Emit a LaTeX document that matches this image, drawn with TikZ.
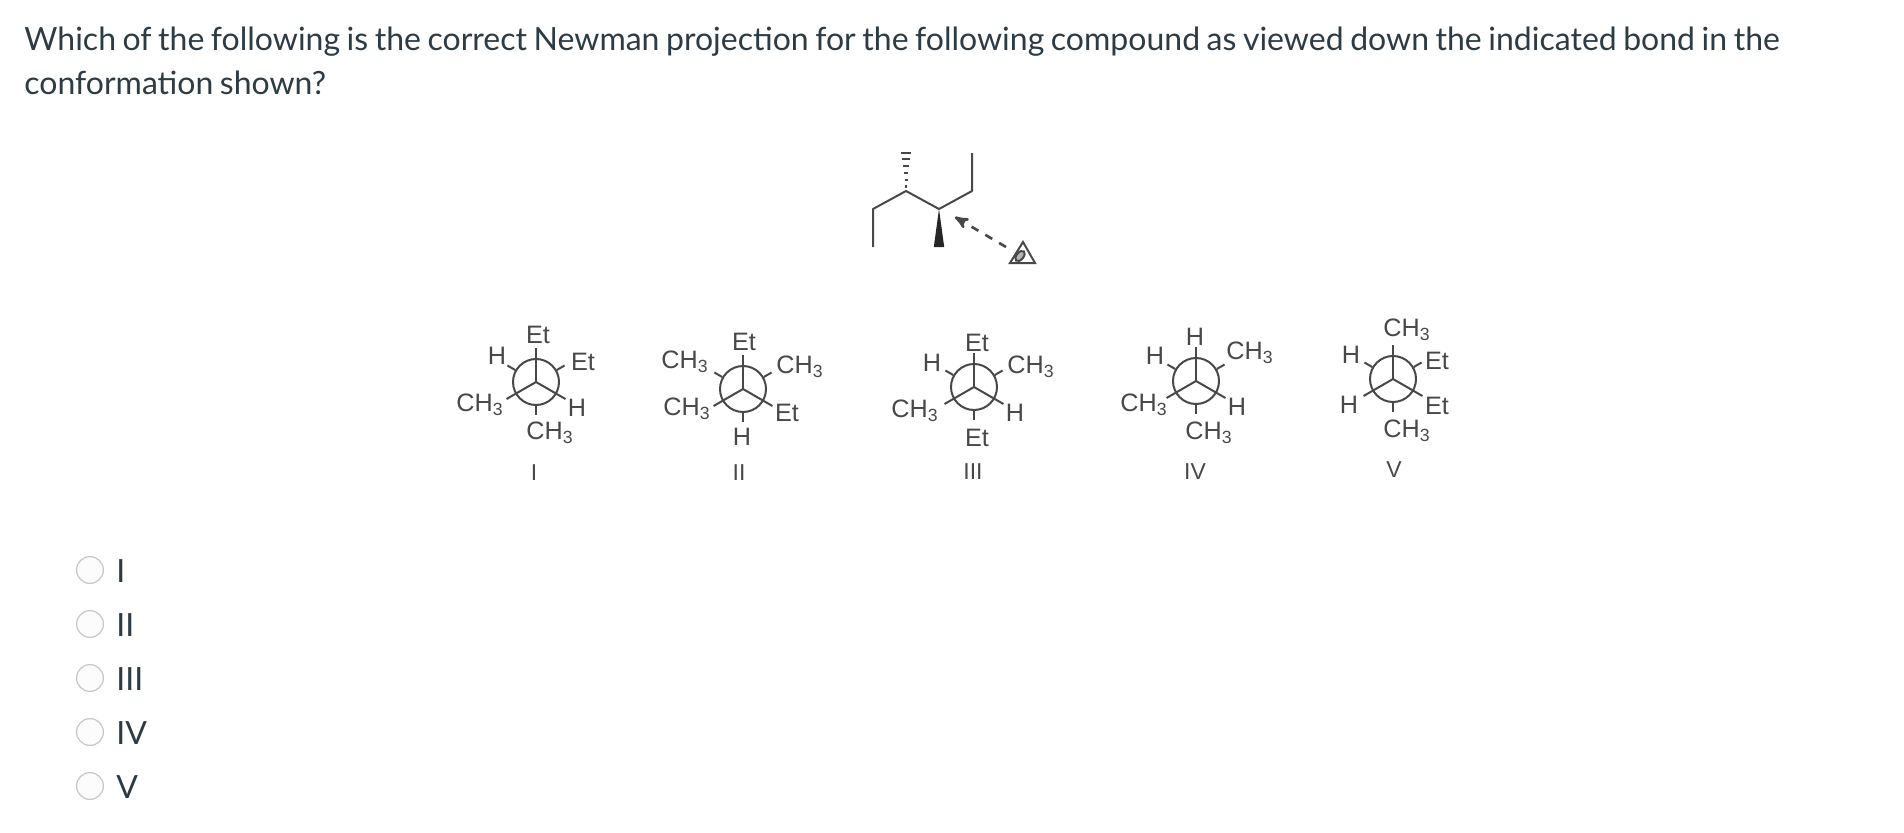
\documentclass[tikz,border=0pt]{standalone}
\usepackage{fontspec}
\setmainfont{Lato}[WordSpace=0.8]
\newfontfamily\labfont{Liberation Sans}
\usetikzlibrary{arrows, positioning}
\definecolor{qtext}{HTML}{2D3B45}
\definecolor{chem}{HTML}{484848}
\tikzset{
    bond/.style={draw=chem, line width=1pt},
    newman/.style={circle, draw=chem, line width=1pt, minimum size=23pt, inner sep=0pt},
    lab/.style={font=\labfont\fontsize{12.6}{14}\selectfont, text=chem, inner sep=0.5pt},
    numeral/.style={font=\labfont\fontsize{11.5}{14}\selectfont, text=chem, inner sep=0.5pt},
    qline/.style={font=\fontsize{16}{20}\selectfont, text=qtext, anchor=base west, inner sep=0pt},
    radio/.style={circle, draw=black!22, line width=0.6pt, fill=black!1, minimum size=13.4pt, inner sep=0pt},
    opt/.style={font=\fontsize{16}{20}\selectfont, text=qtext, inner sep=0pt},
}
\begin{document}
\begin{tikzpicture}[x=0.5pt, y=0.5pt]
    \useasboundingbox (0,0) rectangle (1904,832);

    % question
    \node[qline] (q1) at (24,781) {Which of the following is the correct Newman projection for the following compound as viewed down the indicated bond in the};
    \node[qline] (q2) at (24,737) {conformation shown?};

    % skeleton
    \coordinate (c1) at (873,585);
    \coordinate (c2) at (873,623);
    \coordinate (c3) at (906,641);
    \coordinate (c4) at (939,623);
    \coordinate (c5) at (972,641);
    \coordinate (c6) at (972,679);
    \coordinate (me1) at (939,585);
    \draw[bond, line join=round] (c1) -- (c2) -- (c3) -- (c4) -- (c5) -- (c6);
    \fill[black!85] (c4) -- ([xshift=-2.6pt]me1) -- ([xshift=2.6pt]me1) -- cycle;
    \foreach \t in {0.12,0.3,0.48,0.66,0.84,1}
        \draw[chem, line width=1.1pt] ([shift={(-5*\t,38*\t)}]c3) -- ([shift={(5*\t,38*\t)}]c3);

    % eye and view arrow
    \coordinate (view) at (955,615);
    \coordinate (eye) at (1006,585);
    \draw[bond, line width=1.3pt, dash pattern=on 4pt off 4pt, -stealth'] (eye) -- (view);
    \coordinate (e1) at (1023,590);
    \coordinate (e2) at (1010,569);
    \coordinate (e3) at (1035,569);
    \draw[bond] (e1) -- (e3) -- (e2) -- cycle;
    \draw[bond, fill=chem!40, rotate around={50:(1020,576)}] (1020,576) ellipse (6 and 3.5);

    % newman projections
    \foreach \n/\x/\y in {n1/536/450, n2/743/443, n3/974/445, n4/1196/451, n5/1393/453} {
        \node[newman] (\n) at (\x,\y) {};
        \foreach \a in {90,210,330}
            \draw[bond] (\n.center) -- ++(\a:34);
        \foreach \a in {30,150,270}
            \draw[bond] (\n.\a) -- ++(\a:9);
    }

    % I
    \node[lab] (a1) at (538,497) {Et};
    \node[lab] (a2) at (497,476) {H};
    \node[lab] (a3) at (583,470) {Et};
    \node[lab] (a4) at (577,424) {H};
    \node[lab] (a5) at (480,427) {CH\textsubscript{3}};
    \node[lab] (a6) at (550,399) {CH\textsubscript{3}};
    \node[numeral] (a7) at (534,359) {I};
    % II
    \node[lab] (b1) at (744,490) {Et};
    \node[lab] (b2) at (685,470) {CH\textsubscript{3}};
    \node[lab] (b3) at (800,465) {CH\textsubscript{3}};
    \node[lab] (b4) at (687,423) {CH\textsubscript{3}};
    \node[lab] (b5) at (787,419) {Et};
    \node[lab] (b6) at (742,395) {H};
    \node[numeral] (b7) at (739,359) {II};
    % III
    \node[lab] (d1) at (977,489) {Et};
    \node[lab] (d2) at (932,469) {H};
    \node[lab] (d3) at (1031,465) {CH\textsubscript{3}};
    \node[lab] (d4) at (915,421) {CH\textsubscript{3}};
    \node[lab] (d5) at (1015,419) {H};
    \node[lab] (d6) at (977,394) {Et};
    \node[numeral] (d7) at (973,360) {III};
    % IV
    \node[lab] (f1) at (1195,495) {H};
    \node[lab] (f2) at (1155,476) {H};
    \node[lab] (f3) at (1250,479) {CH\textsubscript{3}};
    \node[lab] (f4) at (1144,427) {CH\textsubscript{3}};
    \node[lab] (f5) at (1237,425) {H};
    \node[lab] (f6) at (1209,399) {CH\textsubscript{3}};
    \node[numeral] (f7) at (1195,360) {IV};
    % V
    \node[lab] (g1) at (1407,502) {CH\textsubscript{3}};
    \node[lab] (g2) at (1351,477) {H};
    \node[lab] (g3) at (1437,471) {Et};
    \node[lab] (g4) at (1349,427) {H};
    \node[lab] (g5) at (1437,426) {Et};
    \node[lab] (g6) at (1407,401) {CH\textsubscript{3}};
    \node[numeral] (g7) at (1394,362) {V};

    % answer choices
    \foreach \i/\y/\t in {1/262/I, 2/208/II, 3/154/III, 4/100/IV, 5/46/V} {
        \node[radio] (r\i) at (90,\y) {};
        \node[opt, anchor=west] (o\i) at (116,\y-1) {\t};
    }
\end{tikzpicture}
\end{document}
